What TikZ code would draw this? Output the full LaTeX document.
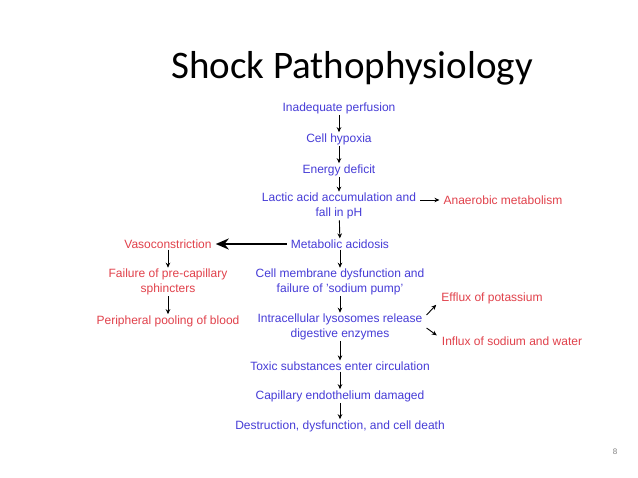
\documentclass[tikz,border=0pt]{standalone}
\usepackage{fontspec}
\setmainfont{Liberation Sans}
\newfontfamily\titlefont{Carlito}
\usetikzlibrary{arrows.meta}
\definecolor{bl}{RGB}{70,60,215}
\definecolor{rd}{RGB}{225,65,75}
\begin{document}
\begin{tikzpicture}[x=1pt,y=-1pt,
  b/.style={text=bl,font=\fontsize{12}{15}\selectfont,align=center,inner xsep=4pt,inner ysep=1pt},
  r/.style={text=rd,font=\fontsize{12}{15}\selectfont,align=center,inner xsep=4pt,inner ysep=1pt},
  ar/.style={-{Stealth[length=5pt,width=4.5pt]},line width=0.9pt}]
\useasboundingbox[fill=white] (0,0) rectangle (638,478);
\node[font=\titlefont\fontsize{39}{44}\selectfont] (title) at (352,68) {Shock Pathophysiology};
\node[b] (n1) at (339,108) {Inadequate perfusion};
\node[b] (n2) at (339,139) {Cell hypoxia};
\node[b] (n3) at (339,170) {Energy deficit};
\node[b] (n4) at (339,206) {Lactic acid accumulation and\\fall in pH};
\node[r] (an) at (503,200) {Anaerobic metabolism};
\node[b] (n5) at (340,244) {Metabolic acidosis};
\node[r] (v1) at (168,244) {Vasoconstriction};
\node[r] (v2) at (168,282) {Failure of pre-capillary\\sphincters};
\node[r] (v3) at (168,321) {Peripheral pooling of blood};
\node[b] (n6) at (340,282) {Cell membrane dysfunction and\\failure of 'sodium pump'};
\node[b] (n7) at (340,327) {Intracellular lysosomes release\\digestive enzymes};
\node[r] (ef) at (492,298) {Efflux of potassium};
\node[r] (in) at (512,341) {Influx of sodium and water};
\node[b] (n8) at (340,366) {Toxic substances enter circulation};
\node[b] (n9) at (340,396) {Capillary endothelium damaged};
\node[b] (n10) at (340,426) {Destruction, dysfunction, and cell death};
\node[text=gray,font=\fontsize{8}{10}\selectfont] (pg) at (615,452) {8};
\foreach \a/\c in {n1/n2,n2/n3,n3/n4,n4/n5,n5/n6,n6/n7,n7/n8,n8/n9,n9/n10,v1/v2,v2/v3}
  \draw[ar] (\a) -- (\c);
\draw[ar] (n4.east |- an) -- (an);
\draw[-{Stealth[length=13pt,width=11pt]},line width=2.2pt] (n5) -- (v1);
\draw[ar] ([yshift=12pt]n7.east) -- ([xshift=-1pt]ef.south west);
\draw[ar] ([yshift=-1pt]n7.east) -- ([xshift=-1pt]in.north west);
\end{tikzpicture}
\end{document}
